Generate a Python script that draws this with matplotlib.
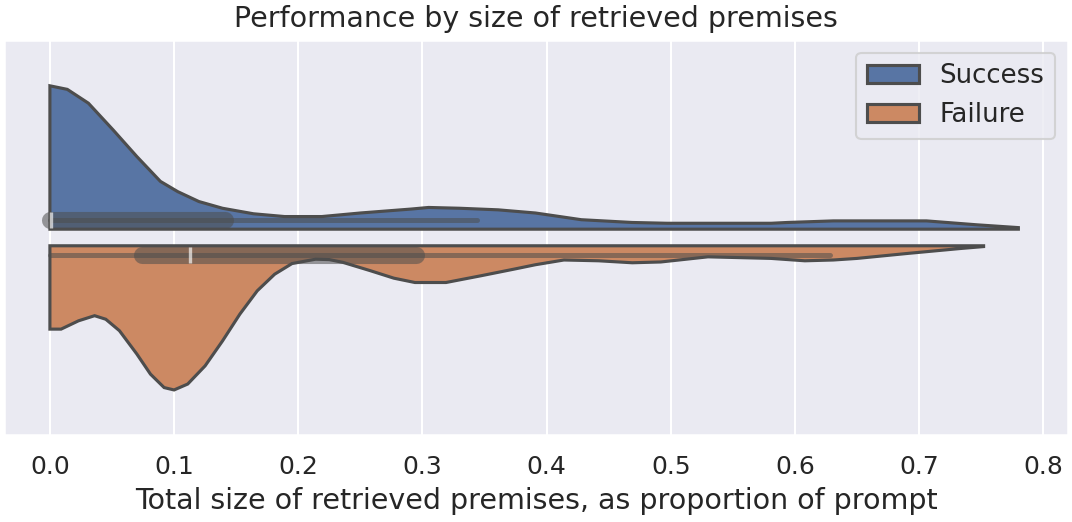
import matplotlib.pyplot as plt
import seaborn as sns

sns.set_theme(style="darkgrid")
plt.rcParams['font.family'] = ['DejaVu Sans']

# half-violin outlines (x value, half width in axis units)
succ_x = [0.000, 0.014, 0.031, 0.051, 0.070, 0.089, 0.103, 0.120, 0.139, 0.164,
          0.189, 0.219, 0.250, 0.291, 0.305, 0.330, 0.361, 0.391, 0.428, 0.469,
          0.497, 0.581, 0.594, 0.631, 0.706, 0.747, 0.780]
succ_h = [0.363, 0.354, 0.319, 0.251, 0.184, 0.121, 0.095, 0.070, 0.053, 0.039,
          0.032, 0.032, 0.041, 0.051, 0.055, 0.053, 0.049, 0.041, 0.024, 0.017,
          0.015, 0.015, 0.017, 0.021, 0.021, 0.011, 0.004]

fail_x = [0.000, 0.009, 0.023, 0.036, 0.045, 0.056, 0.070, 0.081, 0.092, 0.100,
          0.111, 0.125, 0.139, 0.153, 0.167, 0.181, 0.195, 0.214, 0.225, 0.236,
          0.258, 0.277, 0.294, 0.319, 0.347, 0.374, 0.391, 0.414, 0.442, 0.469,
          0.492, 0.530, 0.581, 0.608, 0.631, 0.650, 0.692, 0.733, 0.752]
fail_h = [0.211, 0.211, 0.190, 0.177, 0.186, 0.215, 0.274, 0.325, 0.359, 0.365,
          0.350, 0.304, 0.241, 0.173, 0.114, 0.072, 0.045, 0.034, 0.035, 0.042,
          0.063, 0.082, 0.093, 0.093, 0.076, 0.059, 0.048, 0.036, 0.038, 0.043,
          0.041, 0.028, 0.032, 0.038, 0.036, 0.032, 0.019, 0.007, 0.002]

# inner box: whisker low, q1, median, q3, whisker high
succ_box = [0.000, 0.000, 0.001, 0.141, 0.344]
fail_box = [0.000, 0.074, 0.113, 0.295, 0.628]

labels = ['Success', 'Failure']
colors = ['#5875a4', '#cc8963']
line_c = '#4d4d4d'

fig, ax = plt.subplots(figsize=(1072 / 150, 522 / 150), dpi=150)
fig.subplots_adjust(left=0.0037, right=0.9963, top=0.9234, bottom=0.1667)

gap = 0.021     # half gap between the two halves
boff = 0.044    # where the inner box sits
for xs, hs, box, col, lab, sgn in [(succ_x, succ_h, succ_box, colors[0], labels[0], 1),
                                   (fail_x, fail_h, fail_box, colors[1], labels[1], -1)]:
    top = [sgn * (gap + h) for h in hs]
    px = list(xs) + list(xs[::-1])
    py = top + [sgn * gap] * len(xs)
    ax.fill(px, py, facecolor=col, edgecolor=line_c, linewidth=1.5, label=lab, zorder=2)
    y = sgn * boff
    ax.plot([box[0], box[4]], [y, y], color=line_c, alpha=0.55, lw=2.4,
            solid_capstyle='round', zorder=3)
    ax.plot([box[1], box[3]], [y, y], color=line_c, alpha=0.55, lw=8.2,
            solid_capstyle='round', zorder=3)
    ax.plot([box[2]], [y], marker='|', color='white', alpha=0.65, markersize=7.5,
            markeredgewidth=1.6, zorder=4)

ax.set_xlim(-0.037, 0.820)
ax.set_ylim(-0.5, 0.5)
ax.set_yticks([])
ax.set_xticks([0.0, 0.1, 0.2, 0.3, 0.4, 0.5, 0.6, 0.7, 0.8])
ax.tick_params(axis='x', labelsize=12)
ax.set_xlabel('Total size of retrieved premises, as proportion of prompt', fontsize=13.7)
ax.set_title('Performance by size of retrieved premises', fontsize=13.7)
ax.legend(loc='upper right', fontsize=12.5)

plt.savefig('out.png', dpi=150)
